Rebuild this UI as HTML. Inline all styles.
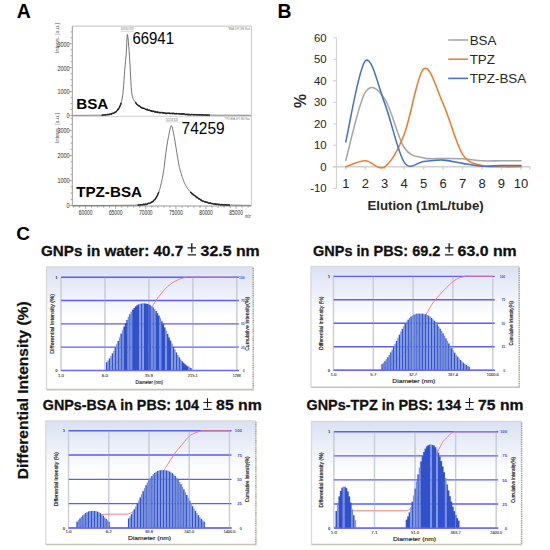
<!DOCTYPE html><html><head><meta charset="utf-8"><style>html,body{margin:0;padding:0;background:#fff;width:550px;height:550px;overflow:hidden}svg{display:block}</style></head><body>
<svg width="550" height="550" viewBox="0 0 550 550" font-family='"Liberation Sans", sans-serif'>
<rect width="550" height="550" fill="#fff"/>
<text x="16.8" y="17.7" font-size="19.4" font-weight="bold">A</text>
<g fill="none" stroke="#cdcdcd">
<path d="M72.3 26.1H251.5V206M72.3 116.3H251.5" stroke-width="1.1"/>
</g>
<path d="M72.3 26V206H251.5" fill="none" stroke="#9a9a9a" stroke-width="1"/>
<path d="M69.3 115.5H72.3M70.5 109.53H72.3M70.5 103.55H72.3M70.5 97.58H72.3M69.3 91.6H72.3M70.5 85.62H72.3M70.5 79.65H72.3M70.5 73.67H72.3M69.3 67.7H72.3M70.5 61.72H72.3M70.5 55.75H72.3M70.5 49.77H72.3M69.3 43.8H72.3M70.5 37.83H72.3M70.5 31.85H72.3M69.3 205.6H72.3M70.5 199.35H72.3M70.5 193.1H72.3M70.5 186.85H72.3M69.3 180.6H72.3M70.5 174.35H72.3M70.5 168.1H72.3M70.5 161.85H72.3M69.3 155.6H72.3M70.5 149.35H72.3M70.5 143.1H72.3M70.5 136.85H72.3M69.3 130.6H72.3M70.5 124.35H72.3M70.5 118.1H72.3M73.56 206v1.8M79.58 206v1.8M85.6 206v3M91.62 206v1.8M97.64 206v1.8M103.66 206v1.8M109.68 206v1.8M115.7 206v3M121.72 206v1.8M127.74 206v1.8M133.76 206v1.8M139.78 206v1.8M145.8 206v3M151.82 206v1.8M157.84 206v1.8M163.86 206v1.8M169.88 206v1.8M175.9 206v3M181.92 206v1.8M187.94 206v1.8M193.96 206v1.8M199.98 206v1.8M206 206v3M212.02 206v1.8M218.04 206v1.8M224.06 206v1.8M230.08 206v1.8M236.1 206v3M242.12 206v1.8M248.14 206v1.8" stroke="#888" stroke-width="0.7" fill="none"/>
<g font-size="7.2" fill="#262626" text-anchor="end">
<text x="69.6" y="118.3" textLength="3" lengthAdjust="spacingAndGlyphs">0</text>
<text x="69.6" y="94.4" textLength="12.2" lengthAdjust="spacingAndGlyphs">1000</text>
<text x="69.6" y="70.5" textLength="12.2" lengthAdjust="spacingAndGlyphs">2000</text>
<text x="69.6" y="46.6" textLength="12.2" lengthAdjust="spacingAndGlyphs">3000</text>
<text x="69.6" y="208.4" textLength="3" lengthAdjust="spacingAndGlyphs">0</text>
<text x="69.6" y="183.4" textLength="12.2" lengthAdjust="spacingAndGlyphs">1000</text>
<text x="69.6" y="158.4" textLength="12.2" lengthAdjust="spacingAndGlyphs">2000</text>
<text x="69.6" y="133.4" textLength="12.2" lengthAdjust="spacingAndGlyphs">3000</text>
</g>
<g font-size="7.2" fill="#262626" text-anchor="middle">
<text x="85.6" y="215.3" textLength="13.6" lengthAdjust="spacingAndGlyphs">60000</text>
<text x="115.7" y="215.3" textLength="13.6" lengthAdjust="spacingAndGlyphs">65000</text>
<text x="145.8" y="215.3" textLength="13.6" lengthAdjust="spacingAndGlyphs">70000</text>
<text x="175.9" y="215.3" textLength="13.6" lengthAdjust="spacingAndGlyphs">75000</text>
<text x="206" y="215.3" textLength="13.6" lengthAdjust="spacingAndGlyphs">80000</text>
<text x="236.1" y="215.3" textLength="13.6" lengthAdjust="spacingAndGlyphs">85000</text>
<text x="248" y="218.2" font-size="5" textLength="5.4" lengthAdjust="spacingAndGlyphs">m/z</text>
</g>
<text transform="translate(58.5 38) rotate(-90)" font-size="5.5" fill="#555" text-anchor="middle">Intens. [a.u.]</text>
<text transform="translate(58.5 128) rotate(-90)" font-size="5.5" fill="#555" text-anchor="middle">Intens. [a.u.]</text>
<g font-size="3.5" fill="#777">
<text x="121" y="30.1" textLength="12.6" lengthAdjust="spacingAndGlyphs">66940.919</text><path d="M121 31.3h12.6" stroke="#aaa" stroke-width="0.5"/>
<text x="165.5" y="120.6" textLength="12.6" lengthAdjust="spacingAndGlyphs">74258.826</text><path d="M165.5 121.8h12.6" stroke="#aaa" stroke-width="0.5"/>
<text x="228" y="30.4" textLength="22" lengthAdjust="spacingAndGlyphs">*BSA  0:F1 MS Raw</text>
<text x="224.4" y="120.4" textLength="25.4" lengthAdjust="spacingAndGlyphs">*TPZ-BSA 0:F1 MS Raw</text>
</g>
<path d="M72.8 115.38 L73.2 115.35 L73.6 115.42 L74 115.34 L74.4 115.4 L74.8 115.38 L75.2 115.34 L75.6 115.4 L76 115.33 L76.4 115.39 L76.8 115.33 L77.2 115.34 L77.6 115.38 L78 115.44 L78.4 115.34 L78.8 115.35 L79.2 115.41 L79.6 115.45 L80 115.4 L80.4 115.37 L80.8 115.45 L81.2 115.31 L81.6 115.43 L82 115.35 L82.4 115.32 L82.8 115.32 L83.2 115.34 L83.6 115.42 L84 115.32 L84.4 115.38 L84.8 115.38 L85.2 115.34 L85.6 115.36 L86 115.28 L86.4 115.28 L86.8 115.3 L87.2 115.38 L87.6 115.33 L88 115.31 L88.4 115.35 L88.8 115.33 L89.2 115.3 L89.6 115.38 L90 115.36 L90.4 115.27 L90.8 115.33 L91.2 115.32 L91.6 115.38 L92 115.35 L92.4 115.26 L92.8 115.39 L93.2 115.22 L93.6 115.27 L94 115.33 L94.4 115.21 L94.8 115.27 L95.2 115.17 L95.6 115.3 L96 115.31 L96.4 115.27 L96.8 115.33 L97.2 115.2 L97.6 115.28 L98 115.25 L98.4 115.24 L98.8 115.21 L99.2 115.29 L99.6 115.31 L100 115.19 L100.4 115.23 L100.8 115.07 L101.2 115.22 L101.6 115.18 L102 115.26 L102.4 115.19 L102.8 115.01 L103.2 115.01 L103.6 115.07 L104 114.83 L104.4 114.94 L104.8 114.8 L105 114.76 L105.2 114.71 L105.6 114.95 L106 114.65 L106.4 114.65 L106.8 114.66 L107.2 114.84 L107.6 114.4 L108 114.53 L108.4 114.52 L108.8 114.65 L109.2 114.56 L109.6 114.52 L110 114.05 L110.4 114.06 L110.8 113.93 L111.2 114.2 L111.6 114.15 L112 113.48 L112.4 113.39 L112.8 113.3 L113.2 113.18 L113.6 113.22 L113.7 113.26 L114 112.92 L114.4 112.54 L114.8 112.58 L115.2 112.26 L115.6 112.07 L116 111.98 L116.4 111.4 L116.8 110.85 L117.2 110.48 L117.6 110.04 L118 109.11 L118.1 109.58 L118.4 109.1 L118.8 108.58 L119.2 107.87 L119.6 106.85 L120 106.01 L120.4 104.88 L120.8 104.16 L121.1 102.97 L121.2 102.66 L121.6 101.24 L122 99.34 L122.4 97.08 L122.8 94.35 L122.9 93.6 L123.2 90.72 L123.6 85.72 L123.8 83.1 L124 80.36 L124.4 74.46 L124.6 71.7 L124.8 69.21 L125.2 64.73 L125.6 60.48 L126 55.97 L126.4 50.7 L126.8 42.11 L127.2 34.82 L127.3 34.4 L127.6 35.12 L128 37.91 L128.4 42.14 L128.8 47.03 L129.1 50.7 L129.2 51.94 L129.6 57.82 L130 64.66 L130.3 70 L130.4 71.89 L130.8 80.6 L131.2 87.5 L131.6 91.46 L132 94.53 L132.4 96.67 L132.5 97.03 L132.8 97.94 L133.2 98.86 L133.6 99.69 L134 100.28 L134.4 101.08 L134.7 101.41 L134.8 101.65 L135.2 102 L135.6 102.46 L136 103.25 L136.4 103.82 L136.8 104.2 L137.2 104.6 L137.6 105.01 L138 105.34 L138.4 105.33 L138.8 105.85 L139.2 106.04 L139.6 106.08 L139.9 106.27 L140 106.51 L140.4 106.72 L140.8 107.25 L141.2 107.64 L141.6 107.49 L142 108.02 L142.4 108.24 L142.8 108.39 L143.2 108.14 L143.6 108.2 L144 108.35 L144.4 108.48 L144.8 108.63 L145.2 109.06 L145.6 109.39 L146 109.48 L146.4 109.35 L146.5 109.51 L146.8 109.71 L147.2 109.33 L147.6 109.86 L148 110.16 L148.4 110.19 L148.8 110.29 L149.2 110.22 L149.6 110.13 L150 110.68 L150.4 110.47 L150.8 110.91 L151.2 111.14 L151.6 110.85 L152 110.96 L152.4 111.44 L152.8 111.39 L153.2 111.1 L153.6 111.17 L154 111.28 L154.4 111.89 L154.8 111.91 L155.2 111.53 L155.6 112.09 L156 112.28 L156.4 112.12 L156.8 111.98 L157.2 112.18 L157.6 111.95 L158 111.93 L158.2 112.63 L158.4 112.43 L158.8 112.4 L159.2 112.74 L159.6 112.44 L160 112.8 L160.4 112.82 L160.8 112.43 L161.2 112.51 L161.6 112.58 L162 112.59 L162.4 112.88 L162.8 112.69 L163.2 112.85 L163.6 112.69 L164 113.27 L164.4 112.92 L164.8 113.03 L165.2 113.15 L165.6 113.41 L166 113.11 L166.4 113.49 L166.8 113.22 L167.2 113.27 L167.6 113.29 L168 112.97 L168.4 113.29 L168.8 113.13 L169.2 113.02 L169.6 113.6 L169.8 113.17 L170 113.39 L170.4 113.58 L170.8 113.48 L171.2 113.33 L171.6 113.48 L172 113.52 L172.4 113.69 L172.8 113.22 L173.2 113.55 L173.6 113.34 L174 113.37 L174.4 113.72 L174.8 113.55 L175.2 113.59 L175.6 113.74 L176 113.86 L176.4 113.54 L176.8 113.66 L177.2 113.6 L177.6 113.62 L178 113.75 L178.4 113.6 L178.8 113.67 L179.2 113.65 L179.6 113.99 L180 113.84 L180.4 113.99 L180.8 114.07 L181.2 113.63 L181.6 113.89 L182 114.21 L182.4 114.19 L182.8 113.76 L183.2 113.81 L183.6 114.09 L184 113.89 L184.4 114.07 L184.8 114.01 L185.2 114.44 L185.6 114.55 L186 114.64 L186.4 114.22 L186.8 114.57 L187.2 114.56 L187.6 114.29 L188 114.72 L188.4 114.78 L188.8 114.39 L189.2 114.8 L189.6 114.53 L190 114.59 L190.4 114.86 L190.8 114.8 L191.2 114.48 L191.6 114.63 L192 114.68 L192.4 114.61 L192.8 114.56 L193.2 114.63 L193.6 114.83 L194 114.52 L194.4 114.78 L194.8 114.74 L195.2 114.57 L195.6 114.71 L196 114.85 L196.4 114.81 L196.8 114.64 L197.2 115.03 L197.6 114.95 L198 115.04 L198.4 114.7 L198.8 114.78 L199.2 114.7 L199.6 115 L200 114.81 L200.4 114.77 L200.8 114.89 L201.2 115.08 L201.6 115.05 L202 114.87 L202.4 114.84 L202.8 115.12 L203.2 115.01 L203.6 115.06 L204 114.87 L204.4 114.87 L204.8 115.09 L205.2 115.01 L205.6 114.92 L206 115.19 L206.4 115.11 L206.8 115.16 L207.2 114.97 L207.6 115.2 L208 114.98 L208.4 115.21 L208.8 115.11 L209.2 115.09 L209.6 115.15 L210 115.26 L210.4 115.09 L210.8 115.06 L211.2 115.17 L211.6 115.11 L212 115.08 L212.4 115.1 L212.8 115.08 L213.2 115.12 L213.6 115.15 L214 115.15 L214.4 115.26 L214.8 115.15 L215 115.2 L215.2 115.13 L215.6 115.17 L216 115.09 L216.4 115.15 L216.8 115.09 L217.2 115.26 L217.6 115.22 L218 115.14 L218.4 115.2 L218.8 115.31 L219.2 115.12 L219.6 115.28 L220 115.2 L220.4 115.21 L220.8 115.29 L221.2 115.19 L221.6 115.22 L222 115.26 L222.4 115.33 L222.8 115.18 L223.2 115.29 L223.6 115.27 L224 115.25 L224.4 115.2 L224.8 115.19 L225.2 115.13 L225.6 115.14 L226 115.13 L226.4 115.28 L226.8 115.17 L227.2 115.15 L227.6 115.14 L228 115.3 L228.4 115.31 L228.8 115.27 L229.2 115.18 L229.6 115.18 L230 115.19 L230.4 115.23 L230.8 115.16 L231.2 115.22 L231.6 115.18 L232 115.34 L232.4 115.34 L232.8 115.25 L233.2 115.18 L233.6 115.34 L234 115.2 L234.4 115.21 L234.8 115.13 L235.2 115.22 L235.6 115.24 L236 115.24 L236.4 115.18 L236.8 115.24 L237.2 115.14 L237.6 115.19 L238 115.16 L238.4 115.22 L238.8 115.15 L239.2 115.14 L239.6 115.2 L240 115.19 L240.4 115.26 L240.8 115.25 L241.2 115.3 L241.6 115.28 L242 115.29 L242.4 115.33 L242.8 115.22 L243.2 115.21 L243.6 115.35 L244 115.17 L244.4 115.3 L244.8 115.28 L245.2 115.15 L245.6 115.32 L246 115.33 L246.4 115.28 L246.8 115.3 L247.2 115.31 L247.6 115.17 L248 115.25 L248.4 115.25 L248.8 115.32 L249.2 115.31 L249.6 115.32 L250 115.27 L250.4 115.33 L250.8 115.29" fill="none" stroke="#5a5a5a" stroke-width="0.85" stroke-linejoin="round"/>
<path d="M101.6 115.18 L102 115.26 L102.4 115.19 L102.8 115.01 L103.2 115.01 L103.6 115.07 L104 114.83 L104.4 114.94 L104.8 114.8 L105 114.76 L105.2 114.71 L105.6 114.95 L106 114.65 L106.4 114.65 L106.8 114.66 L107.2 114.84 L107.6 114.4 L108 114.53 L108.4 114.52 L108.8 114.65 L109.2 114.56 L109.6 114.52 L110 114.05 L110.4 114.06 L110.8 113.93 L111.2 114.2 L111.6 114.15 L112 113.48 L112.4 113.39 L112.8 113.3 L113.2 113.18 L113.6 113.22 L113.7 113.26 L114 112.92 L114.4 112.54 L114.8 112.58 L115.2 112.26 L115.6 112.07 L116 111.98 L116.4 111.4 L116.8 110.85 L117.2 110.48 L117.6 110.04 L118 109.11 L118.1 109.58 L118.4 109.1 L118.8 108.58 L119.2 107.87 L119.6 106.85 L120 106.01 L120.4 104.88 L120.8 104.16 L121.1 102.97 L121.2 102.66M135.2 102 L135.6 102.46 L136 103.25 L136.4 103.82 L136.8 104.2 L137.2 104.6 L137.6 105.01 L138 105.34 L138.4 105.33 L138.8 105.85 L139.2 106.04 L139.6 106.08 L139.9 106.27 L140 106.51 L140.4 106.72 L140.8 107.25 L141.2 107.64 L141.6 107.49 L142 108.02 L142.4 108.24 L142.8 108.39 L143.2 108.14 L143.6 108.2 L144 108.35 L144.4 108.48 L144.8 108.63 L145.2 109.06 L145.6 109.39 L146 109.48 L146.4 109.35 L146.5 109.51 L146.8 109.71 L147.2 109.33 L147.6 109.86 L148 110.16 L148.4 110.19 L148.8 110.29 L149.2 110.22 L149.6 110.13 L150 110.68 L150.4 110.47 L150.8 110.91 L151.2 111.14 L151.6 110.85 L152 110.96 L152.4 111.44 L152.8 111.39 L153.2 111.1 L153.6 111.17 L154 111.28 L154.4 111.89 L154.8 111.91 L155.2 111.53 L155.6 112.09 L156 112.28 L156.4 112.12 L156.8 111.98 L157.2 112.18 L157.6 111.95 L158 111.93 L158.2 112.63 L158.4 112.43 L158.8 112.4 L159.2 112.74 L159.6 112.44 L160 112.8 L160.4 112.82 L160.8 112.43 L161.2 112.51 L161.6 112.58 L162 112.59 L162.4 112.88 L162.8 112.69 L163.2 112.85 L163.6 112.69 L164 113.27 L164.4 112.92 L164.8 113.03 L165.2 113.15 L165.6 113.41 L166 113.11 L166.4 113.49 L166.8 113.22 L167.2 113.27 L167.6 113.29 L168 112.97 L168.4 113.29 L168.8 113.13 L169.2 113.02 L169.6 113.6 L169.8 113.17 L170 113.39 L170.4 113.58 L170.8 113.48 L171.2 113.33 L171.6 113.48 L172 113.52 L172.4 113.69 L172.8 113.22 L173.2 113.55 L173.6 113.34 L174 113.37 L174.4 113.72 L174.8 113.55 L175.2 113.59 L175.6 113.74 L176 113.86 L176.4 113.54 L176.8 113.66 L177.2 113.6 L177.6 113.62 L178 113.75 L178.4 113.6 L178.8 113.67 L179.2 113.65 L179.6 113.99 L180 113.84 L180.4 113.99 L180.8 114.07 L181.2 113.63 L181.6 113.89 L182 114.21 L182.4 114.19 L182.8 113.76 L183.2 113.81 L183.6 114.09 L184 113.89 L184.4 114.07 L184.8 114.01 L185.2 114.44 L185.6 114.55 L186 114.64 L186.4 114.22 L186.8 114.57 L187.2 114.56 L187.6 114.29 L188 114.72 L188.4 114.78 L188.8 114.39 L189.2 114.8 L189.6 114.53 L190 114.59 L190.4 114.86 L190.8 114.8 L191.2 114.48 L191.6 114.63 L192 114.68 L192.4 114.61 L192.8 114.56 L193.2 114.63 L193.6 114.83 L194 114.52 L194.4 114.78 L194.8 114.74 L195.2 114.57 L195.6 114.71 L196 114.85 L196.4 114.81 L196.8 114.64 L197.2 115.03 L197.6 114.95 L198 115.04 L198.4 114.7 L198.8 114.78 L199.2 114.7 L199.6 115 L200 114.81 L200.4 114.77 L200.8 114.89 L201.2 115.08 L201.6 115.05 L202 114.87 L202.4 114.84 L202.8 115.12 L203.2 115.01 L203.6 115.06 L204 114.87 L204.4 114.87 L204.8 115.09 L205.2 115.01 L205.6 114.92 L206 115.19 L206.4 115.11 L206.8 115.16 L207.2 114.97 L207.6 115.2 L208 114.98 L208.4 115.21 L208.8 115.11 L209.2 115.09 L209.6 115.15 L210 115.26" fill="none" stroke="#262626" stroke-width="1.45" stroke-linejoin="round"/>
<path d="M72.8 205.55 L73.2 205.54 L73.6 205.54 L74 205.54 L74.4 205.55 L74.8 205.54 L75.2 205.56 L75.6 205.55 L76 205.55 L76.4 205.55 L76.8 205.55 L77.2 205.55 L77.6 205.54 L78 205.56 L78.4 205.55 L78.8 205.55 L79.2 205.55 L79.6 205.55 L80 205.54 L80.4 205.55 L80.8 205.54 L81.2 205.53 L81.6 205.54 L82 205.55 L82.4 205.54 L82.8 205.55 L83.2 205.56 L83.6 205.54 L84 205.54 L84.4 205.54 L84.8 205.55 L85.2 205.55 L85.6 205.54 L86 205.54 L86.4 205.53 L86.8 205.53 L87.2 205.53 L87.6 205.54 L88 205.53 L88.4 205.54 L88.8 205.52 L89.2 205.52 L89.6 205.52 L90 205.54 L90.4 205.54 L90.8 205.53 L91.2 205.52 L91.6 205.53 L92 205.52 L92.4 205.52 L92.8 205.51 L93.2 205.54 L93.6 205.51 L94 205.54 L94.4 205.54 L94.8 205.5 L95.2 205.51 L95.6 205.53 L96 205.53 L96.4 205.51 L96.8 205.5 L97.2 205.5 L97.6 205.53 L98 205.49 L98.4 205.51 L98.8 205.49 L99.2 205.5 L99.6 205.52 L100 205.48 L100.4 205.51 L100.8 205.5 L101.2 205.51 L101.6 205.5 L102 205.48 L102.4 205.51 L102.8 205.49 L103.2 205.46 L103.6 205.46 L104 205.48 L104.4 205.48 L104.8 205.47 L105.2 205.46 L105.6 205.47 L106 205.46 L106.4 205.49 L106.8 205.44 L107.2 205.48 L107.6 205.49 L108 205.44 L108.4 205.49 L108.8 205.47 L109.2 205.48 L109.6 205.44 L110 205.44 L110.4 205.44 L110.8 205.48 L111.2 205.45 L111.6 205.43 L112 205.44 L112.4 205.42 L112.8 205.4 L113.2 205.4 L113.6 205.46 L114 205.41 L114.4 205.46 L114.8 205.4 L115.2 205.4 L115.6 205.42 L116 205.39 L116.4 205.4 L116.8 205.45 L117.2 205.44 L117.6 205.43 L118 205.41 L118.4 205.44 L118.8 205.44 L119.2 205.4 L119.6 205.41 L120 205.34 L120.4 205.41 L120.8 205.38 L121.2 205.4 L121.6 205.39 L122 205.35 L122.4 205.32 L122.8 205.41 L123.2 205.32 L123.6 205.35 L124 205.34 L124.4 205.33 L124.8 205.38 L125.2 205.4 L125.6 205.31 L126 205.36 L126.4 205.31 L126.8 205.34 L127.2 205.31 L127.6 205.28 L128 205.27 L128.4 205.28 L128.8 205.37 L129.2 205.31 L129.6 205.27 L130 205.36 L130.4 205.37 L130.8 205.28 L131.2 205.23 L131.6 205.23 L132 205.2 L132.4 205.23 L132.8 205.18 L133.2 205.19 L133.6 205.18 L134 205.22 L134.4 205.27 L134.8 205.23 L135.2 205.14 L135.6 205.12 L136 205.13 L136.4 205.07 L136.8 205.04 L137.2 204.94 L137.6 204.97 L138 205.14 L138.4 204.87 L138.8 204.96 L139.2 204.97 L139.6 205.02 L140 204.77 L140.4 204.76 L140.8 204.71 L141.2 204.73 L141.6 204.72 L142 204.89 L142.4 204.82 L142.8 204.8 L143.2 204.36 L143.6 204.32 L144 204.62 L144.1 204.7 L144.4 204.45 L144.8 204.46 L145.2 204.06 L145.6 204.21 L146 204.48 L146.4 204.33 L146.8 204.26 L147.2 204.23 L147.6 203.61 L148 203.38 L148.4 203.28 L148.8 203.4 L149.2 203.37 L149.6 203.39 L150 203.08 L150.4 202.85 L150.8 202.76 L151.2 202.36 L151.4 202.34 L151.6 201.88 L152 202.18 L152.4 201.54 L152.8 201.73 L153.2 201.22 L153.6 200.64 L154 200.14 L154.4 199.81 L154.8 199.65 L155.2 199.22 L155.6 198.32 L155.9 197.9 L156 198.08 L156.4 197.52 L156.8 196.68 L157.2 195.77 L157.6 195.15 L158 193.84 L158.4 193 L158.8 192.01 L159.2 191.06 L159.5 190.04 L159.6 189.8 L160 188.36 L160.4 186.84 L160.8 185.23 L161.2 183.47 L161.6 181.62 L162 179.69 L162.3 178.2 L162.4 177.7 L162.8 175.58 L163.2 173.29 L163.6 170.83 L164 168.19 L164.1 167.5 L164.4 165.24 L164.8 161.82 L165.2 158.24 L165.6 154.8 L165.9 152.5 L166 151.8 L166.4 149.03 L166.8 146.38 L167.2 143.85 L167.6 141.46 L168 139.22 L168.4 137.16 L168.6 136.2 L168.8 135.24 L169.2 133.2 L169.6 131.15 L170 129.23 L170.4 127.59 L170.8 126.38 L171.2 125.75 L171.35 125.7 L171.6 125.85 L172 126.63 L172.4 127.96 L172.8 129.69 L173.2 131.66 L173.6 133.72 L174 135.72 L174.1 136.2 L174.4 137.7 L174.8 139.94 L175.2 142.38 L175.6 144.95 L176 147.54 L176.4 150.09 L176.8 152.5 L177.2 154.87 L177.6 157.32 L178 159.75 L178.4 162.1 L178.8 164.29 L179.2 166.24 L179.5 167.5 L179.6 167.89 L180 169.4 L180.4 170.86 L180.8 172.28 L181.2 173.64 L181.6 174.96 L182 176.23 L182.4 177.45 L182.8 178.62 L183.2 179.73 L183.6 180.8 L184 181.81 L184.4 182.76 L184.8 183.67 L185.2 184.51 L185.6 185.31 L186 186.04 L186.4 186.72 L186.7 187.25 L186.8 187.31 L187.2 187.92 L187.6 188.59 L188 188.94 L188.4 189.56 L188.8 190.18 L189.2 190.66 L189.6 190.86 L190 191.29 L190.4 191.72 L190.8 192.52 L191.2 192.6 L191.6 193.24 L192 193.7 L192.4 193.75 L192.8 194.05 L193.2 194.81 L193.6 194.93 L194 195.01 L194.4 195.63 L194.8 195.66 L195.2 195.92 L195.5 195.95 L195.6 196.55 L196 196.95 L196.4 197.04 L196.8 197.54 L197.2 197.18 L197.6 197.61 L198 198.05 L198.4 198.66 L198.8 198.92 L199.2 198.79 L199.6 198.95 L200 199.33 L200.4 199.61 L200.8 200.16 L201.2 199.87 L201.6 200.52 L202 200.7 L202.4 200.96 L202.8 201.13 L203.2 201.21 L203.6 201.19 L204 201.36 L204.4 201.55 L204.8 202 L205.2 201.65 L205.6 201.86 L206 202.37 L206.4 202.12 L206.8 202.1 L207.2 202.17 L207.6 202.63 L208 202.57 L208.4 203.12 L208.8 203.14 L209.2 203.31 L209.6 202.89 L210 202.84 L210.4 202.94 L210.8 203.3 L211.2 203.53 L211.6 203.42 L212 203.35 L212.4 203.55 L212.8 203.76 L213.2 203.87 L213.6 203.99 L214 204.12 L214.4 204.06 L214.8 203.74 L215.2 204.3 L215.6 203.98 L216 204.22 L216.4 204.14 L216.8 204.42 L217.2 204.14 L217.6 204.22 L218 204.27 L218.4 204.27 L218.8 204.69 L219.2 204.57 L219.6 204.48 L220 204.55 L220.4 204.85 L220.8 204.66 L221.2 204.56 L221.6 204.83 L222 204.78 L222.4 204.94 L222.8 204.61 L223.2 204.77 L223.6 204.92 L224 204.94 L224.4 204.98 L224.8 204.69 L225.2 204.8 L225.6 204.76 L226 204.8 L226.4 205.07 L226.8 204.96 L227.2 205.08 L227.6 204.93 L228 205.09 L228.4 204.98 L228.8 204.94 L229.2 205.09 L229.6 205.15 L230 204.94 L230.4 205.08 L230.8 205.1 L231.2 205.01 L231.6 205.06 L232 205.02 L232.4 205.04 L232.8 205.07 L233.2 205.15 L233.6 205.17 L234 205.09 L234.4 205.06 L234.8 205.13 L235.2 205.21 L235.6 205.12 L236 205.16 L236.4 205.15 L236.8 205.26 L237.2 205.23 L237.6 205.15 L238 205.16 L238.4 205.22 L238.8 205.25 L239.1 205.27 L239.2 205.19 L239.6 205.2 L240 205.3 L240.4 205.26 L240.8 205.25 L241.2 205.26 L241.6 205.36 L242 205.27 L242.4 205.31 L242.8 205.29 L243.2 205.3 L243.6 205.37 L244 205.39 L244.4 205.31 L244.8 205.3 L245.2 205.37 L245.6 205.31 L246 205.29 L246.4 205.4 L246.8 205.35 L247.2 205.4 L247.6 205.36 L248 205.41 L248.4 205.37 L248.8 205.35 L249.2 205.34 L249.6 205.39 L250 205.4 L250.4 205.43 L250.8 205.36" fill="none" stroke="#5a5a5a" stroke-width="0.85" stroke-linejoin="round"/>
<path d="M137.6 204.97 L138 205.14 L138.4 204.87 L138.8 204.96 L139.2 204.97 L139.6 205.02 L140 204.77 L140.4 204.76 L140.8 204.71 L141.2 204.73 L141.6 204.72 L142 204.89 L142.4 204.82 L142.8 204.8 L143.2 204.36 L143.6 204.32 L144 204.62 L144.1 204.7 L144.4 204.45 L144.8 204.46 L145.2 204.06 L145.6 204.21 L146 204.48 L146.4 204.33 L146.8 204.26 L147.2 204.23 L147.6 203.61 L148 203.38 L148.4 203.28 L148.8 203.4 L149.2 203.37 L149.6 203.39 L150 203.08 L150.4 202.85 L150.8 202.76 L151.2 202.36 L151.4 202.34 L151.6 201.88 L152 202.18 L152.4 201.54 L152.8 201.73 L153.2 201.22 L153.6 200.64 L154 200.14 L154.4 199.81 L154.8 199.65 L155.2 199.22 L155.6 198.32 L155.9 197.9 L156 198.08 L156.4 197.52 L156.8 196.68 L157.2 195.77 L157.6 195.15 L158 193.84 L158.4 193 L158.8 192.01M190.4 191.72 L190.8 192.52 L191.2 192.6 L191.6 193.24 L192 193.7 L192.4 193.75 L192.8 194.05 L193.2 194.81 L193.6 194.93 L194 195.01 L194.4 195.63 L194.8 195.66 L195.2 195.92 L195.5 195.95 L195.6 196.55 L196 196.95 L196.4 197.04 L196.8 197.54 L197.2 197.18 L197.6 197.61 L198 198.05 L198.4 198.66 L198.8 198.92 L199.2 198.79 L199.6 198.95 L200 199.33 L200.4 199.61 L200.8 200.16 L201.2 199.87 L201.6 200.52 L202 200.7 L202.4 200.96 L202.8 201.13 L203.2 201.21 L203.6 201.19 L204 201.36 L204.4 201.55 L204.8 202 L205.2 201.65 L205.6 201.86 L206 202.37 L206.4 202.12 L206.8 202.1 L207.2 202.17 L207.6 202.63 L208 202.57 L208.4 203.12 L208.8 203.14 L209.2 203.31 L209.6 202.89 L210 202.84 L210.4 202.94 L210.8 203.3 L211.2 203.53 L211.6 203.42 L212 203.35 L212.4 203.55 L212.8 203.76 L213.2 203.87 L213.6 203.99 L214 204.12 L214.4 204.06 L214.8 203.74 L215.2 204.3 L215.6 203.98 L216 204.22 L216.4 204.14 L216.8 204.42 L217.2 204.14 L217.6 204.22 L218 204.27 L218.4 204.27 L218.8 204.69 L219.2 204.57 L219.6 204.48 L220 204.55 L220.4 204.85 L220.8 204.66 L221.2 204.56 L221.6 204.83 L222 204.78 L222.4 204.94 L222.8 204.61 L223.2 204.77 L223.6 204.92 L224 204.94 L224.4 204.98 L224.8 204.69 L225.2 204.8 L225.6 204.76 L226 204.8 L226.4 205.07 L226.8 204.96 L227.2 205.08 L227.6 204.93 L228 205.09 L228.4 204.98 L228.8 204.94 L229.2 205.09 L229.6 205.15 L230 204.94" fill="none" stroke="#262626" stroke-width="1.45" stroke-linejoin="round"/>
<text x="132.4" y="43.9" font-size="16.2" textLength="41.6" lengthAdjust="spacingAndGlyphs">66941</text>
<text x="181.6" y="134" font-size="16" textLength="43" lengthAdjust="spacingAndGlyphs">74259</text>
<text x="76.2" y="109.4" font-size="15.2" font-weight="bold">BSA</text>
<text x="76.2" y="197" font-size="15.2" font-weight="bold">TPZ-BSA</text>
<text x="277.6" y="17.6" font-size="19.4" font-weight="bold">B</text>
<path d="M336.4 37.8V188.3" stroke="#d0d0d0" stroke-width="1.1" fill="none"/>
<path d="M333.0 188.3H336.4M333.0 166.8H336.4M333.0 145.3H336.4M333.0 123.8H336.4M333.0 102.3H336.4M333.0 80.8H336.4M333.0 59.3H336.4M333.0 37.8H336.4" stroke="#d0d0d0" stroke-width="1" fill="none"/>
<path d="M333.0 166.8H530M345.8 166.8v2.6M365.26 166.8v2.6M384.72 166.8v2.6M404.18 166.8v2.6M423.64 166.8v2.6M443.1 166.8v2.6M462.56 166.8v2.6M482.02 166.8v2.6M501.48 166.8v2.6M520.94 166.8v2.6M530 166.8v2.6" stroke="#d0d0d0" stroke-width="1.4" fill="none"/>
<g font-size="11.4" fill="#262626" text-anchor="end">
<text x="326.6" y="192.4">-10</text>
<text x="326.6" y="170.9">0</text>
<text x="326.6" y="149.4">10</text>
<text x="326.6" y="127.9">20</text>
<text x="326.6" y="106.4">30</text>
<text x="326.6" y="84.9">40</text>
<text x="326.6" y="63.4">50</text>
<text x="326.6" y="41.9">60</text>
</g>
<g font-size="13" fill="#262626" text-anchor="middle">
<text x="345.8" y="187.6">1</text>
<text x="365.26" y="187.6">2</text>
<text x="384.72" y="187.6">3</text>
<text x="404.18" y="187.6">4</text>
<text x="423.64" y="187.6">5</text>
<text x="443.1" y="187.6">6</text>
<text x="462.56" y="187.6">7</text>
<text x="482.02" y="187.6">8</text>
<text x="501.48" y="187.6">9</text>
<text x="520.94" y="187.6">10</text>
</g>
<text x="367.4" y="209.6" font-size="13.25" font-weight="bold" fill="#262626">Elution (1mL/tube)</text>
<text transform="translate(306.3 101) rotate(-90)" font-size="15.8" font-weight="bold" fill="#262626" text-anchor="middle">%</text>
<path d="M345.8 160.35 C349.04 149.03 358.77 102.66 365.26 92.41 C371.75 82.16 378.23 89.69 384.72 98.86 C391.21 108.03 397.69 137.6 404.18 147.45 C410.67 157.3 417.15 156.16 423.64 157.99 C430.13 159.81 436.61 158.27 443.1 158.42 C449.59 158.56 456.07 158.45 462.56 158.84 C469.05 159.24 475.53 160.46 482.02 160.78 C488.51 161.1 494.99 160.78 501.48 160.78 C507.97 160.78 517.7 160.78 520.94 160.78" fill="none" stroke="#a5a5a5" stroke-width="1.55" stroke-linecap="round"/>
<path d="M345.8 166.8 C349.04 165.8 358.77 160.78 365.26 160.78 C371.75 160.78 378.23 171.17 384.72 166.8 C391.21 162.43 397.69 150.85 404.18 134.55 C410.67 118.25 417.15 74.14 423.64 68.98 C430.13 63.82 436.61 89.36 443.1 103.59 C449.59 117.82 456.07 144.01 462.56 154.33 C469.05 164.65 475.53 163.43 482.02 165.51 C488.51 167.59 494.99 166.59 501.48 166.8 C507.97 167.02 517.7 166.8 520.94 166.8" fill="none" stroke="#ed7d31" stroke-width="1.55" stroke-linecap="round"/>
<path d="M345.8 141.86 C349.04 128.39 358.77 67.43 365.26 61.02 C371.75 54.61 378.23 86.53 384.72 103.38 C391.21 120.22 397.69 152.4 404.18 162.07 C410.67 171.75 417.15 161.75 423.64 161.43 C430.13 161.1 436.61 159.81 443.1 160.14 C449.59 160.46 456.07 162.36 462.56 163.36 C469.05 164.36 475.53 165.8 482.02 166.16 C488.51 166.51 494.99 165.62 501.48 165.51 C507.97 165.4 517.7 165.51 520.94 165.51" fill="none" stroke="#4472c4" stroke-width="1.55" stroke-linecap="round"/>
<path d="M448.2 40H468" stroke="#a5a5a5" stroke-width="1.55"/>
<text x="469.7" y="44.7" font-size="13.4" fill="#262626">BSA</text>
<path d="M448.2 59.2H468" stroke="#ed7d31" stroke-width="1.55"/>
<text x="469.7" y="63.9" font-size="13.4" fill="#262626">TPZ</text>
<path d="M448.2 78.4H468" stroke="#4472c4" stroke-width="1.55"/>
<text x="469.7" y="83.1" font-size="13.4" fill="#262626">TPZ-BSA</text>
<text x="16.3" y="240.2" font-size="19" font-weight="bold">C</text>
<text transform="translate(27.7 390.3) rotate(-90)" font-size="15.3" font-weight="bold" fill="#111" stroke="#111" stroke-width="0.25" text-anchor="middle" textLength="177.8" lengthAdjust="spacingAndGlyphs">Differential Intensity (%)</text>
<text x="41.0" y="256.2" font-size="15.3" font-weight="bold" fill="#111" stroke="#111" stroke-width="0.3" textLength="142.1" lengthAdjust="spacingAndGlyphs">GNPs in water: 40.7</text>
<path d="M187.6 247.8h8.4M191.8 243.3V252.6M187.6 254.9h8.4" stroke="#1a1a1a" stroke-width="1.35" fill="none"/>
<text x="200.6" y="256.2" font-size="15.3" font-weight="bold" fill="#111" stroke="#111" stroke-width="0.3" textLength="59.1" lengthAdjust="spacingAndGlyphs">32.5 nm</text>
<text x="313.0" y="256.2" font-size="15.3" font-weight="bold" fill="#111" stroke="#111" stroke-width="0.3" textLength="127.4" lengthAdjust="spacingAndGlyphs">GNPs in PBS: 69.2</text>
<path d="M445 247.8h8.4M449.2 243.3V252.6M445 254.9h8.4" stroke="#1a1a1a" stroke-width="1.35" fill="none"/>
<text x="457.59999999999997" y="256.2" font-size="15.3" font-weight="bold" fill="#111" stroke="#111" stroke-width="0.3" textLength="59.1" lengthAdjust="spacingAndGlyphs">63.0 nm</text>
<text x="42.8" y="410.1" font-size="15.3" font-weight="bold" fill="#111" stroke="#111" stroke-width="0.3" textLength="156.1" lengthAdjust="spacingAndGlyphs">GNPs-BSA in PBS: 104</text>
<path d="M203.3 402.5h8.4M207.5 398.2V407.5M203.3 409.4h8.4" stroke="#1a1a1a" stroke-width="1.1" fill="none"/>
<text x="216.1" y="410.1" font-size="15.3" font-weight="bold" fill="#111" stroke="#111" stroke-width="0.3" textLength="45.8" lengthAdjust="spacingAndGlyphs">85 nm</text>
<text x="306.5" y="410.1" font-size="15.3" font-weight="bold" fill="#111" stroke="#111" stroke-width="0.3" textLength="154.4" lengthAdjust="spacingAndGlyphs">GNPs-TPZ in PBS: 134</text>
<path d="M465.3 402.5h8.4M469.5 398V407.5M465.3 409.4h8.4" stroke="#1a1a1a" stroke-width="1.1" fill="none"/>
<text x="478.09999999999997" y="410.1" font-size="15.3" font-weight="bold" fill="#111" stroke="#111" stroke-width="0.3" textLength="45.3" lengthAdjust="spacingAndGlyphs">75 nm</text>
<defs><linearGradient id="g46266" x1="0" y1="0" x2="0" y2="1"><stop offset="0" stop-color="#d9e1f3"/><stop offset="0.42" stop-color="#ffffff"/><stop offset="1" stop-color="#ffffff"/></linearGradient></defs>
<rect x="46.5" y="266.8" width="206.7" height="122.8" fill="url(#g46266)"/>
<path d="M46.5 389.6V266.8H253.2" stroke="#d9d9d9" stroke-width="1.3" fill="none"/>
<path d="M253.2 267.8V390.4" stroke="#a4a496" stroke-width="1.5" stroke-dasharray="1.2 0.6"/>
<path d="M46.5 389.6H253.2" stroke="#c4c4bb" stroke-width="1.6"/>
<path d="M61 277.2V370.5M104.95 277.2V370.5M148.9 277.2V370.5M192.85 277.2V370.5M236.8 277.2V370.5" stroke="#c9c9d1" stroke-width="1.35"/>
<path d="M61 277.2H238.8M61 300.52H238.8M61 323.85H238.8M61 347.18H238.8M61 370.5H238.8" stroke="#5c5cfa" stroke-width="1.35"/>
<path d="M106 370.5 C109.67 367.42 121.5 360.08 128 352 C134.5 343.92 141.08 329.23 145 322 C148.92 314.77 149.6 312.28 151.5 308.6 C153.4 304.92 153.77 303.53 156.4 299.9 C159.03 296.27 163.67 290.17 167.3 286.8 C170.93 283.43 174.93 281.3 178.2 279.7 C181.47 278.1 184.6 277.62 186.9 277.2 C189.2 276.78 191.15 277.2 192 277.2H236.8" fill="none" stroke="#f2707e" stroke-width="0.9"/>
<path d="M106 370.5h1.45v-8.16h-1.45zM108.9 370.5h1.45v-12.06h-1.45zM111.8 370.5h1.45v-17.01h-1.45zM114.7 370.5h1.45v-22.92h-1.45zM117.6 370.5h1.45v-29.6h-1.45zM120.5 370.5h1.45v-36.69h-1.45zM123.4 370.5h1.45v-43.79h-1.45zM124.85 370.5h1.45v-47.2h-1.45zM126.3 370.5h1.45v-50.43h-1.45zM129.2 370.5h1.45v-56.21h-1.45zM132.1 370.5h1.45v-60.81h-1.45zM133.55 370.5h1.45v-62.61h-1.45zM135 370.5h1.45v-64.07h-1.45zM136.45 370.5h1.45v-65.2h-1.45zM137.9 370.5h1.45v-66.01h-1.45zM140.8 370.5h1.45v-66.81h-1.45zM143.7 370.5h1.45v-66.89h-1.45zM145.15 370.5h1.45v-66.78h-1.45zM146.6 370.5h1.45v-66.49h-1.45zM148.05 370.5h1.45v-66h-1.45zM149.5 370.5h1.45v-65.25h-1.45zM152.4 370.5h1.45v-62.93h-1.45zM155.3 370.5h1.45v-59.44h-1.45zM156.75 370.5h1.45v-57.27h-1.45zM158.2 370.5h1.45v-54.83h-1.45zM161.1 370.5h1.45v-49.26h-1.45zM162.55 370.5h1.45v-46.2h-1.45zM164 370.5h1.45v-43h-1.45zM166.9 370.5h1.45v-36.4h-1.45zM168.35 370.5h1.45v-33.08h-1.45zM169.8 370.5h1.45v-29.81h-1.45zM172.7 370.5h1.45v-23.57h-1.45zM175.6 370.5h1.45v-17.97h-1.45zM178.5 370.5h1.45v-13.18h-1.45zM181.4 370.5h1.45v-9.29h-1.45zM182.85 370.5h1.45v-7.68h-1.45zM184.3 370.5h1.45v-6.28h-1.45zM185.75 370.5h1.45v-5.08h-1.45zM187.2 370.5h1.45v-4.07h-1.45zM190.1 370.5h1.45v-2.52h-1.45z" fill="#3252cc" stroke="#3252cc" stroke-width="0.15"/>
<path d="M107.45 370.5h1.45v-9.98h-1.45zM110.35 370.5h1.45v-14.41h-1.45zM113.25 370.5h1.45v-19.85h-1.45zM116.15 370.5h1.45v-26.18h-1.45zM119.05 370.5h1.45v-33.12h-1.45zM121.95 370.5h1.45v-40.27h-1.45zM127.75 370.5h1.45v-53.45h-1.45zM130.65 370.5h1.45v-58.67h-1.45zM139.35 370.5h1.45v-66.53h-1.45zM142.25 370.5h1.45v-66.9h-1.45zM150.95 370.5h1.45v-64.23h-1.45zM153.85 370.5h1.45v-61.33h-1.45zM159.65 370.5h1.45v-52.15h-1.45zM165.45 370.5h1.45v-39.72h-1.45zM171.25 370.5h1.45v-26.63h-1.45zM174.15 370.5h1.45v-20.68h-1.45zM177.05 370.5h1.45v-15.47h-1.45zM179.95 370.5h1.45v-11.12h-1.45zM188.65 370.5h1.45v-3.22h-1.45z" fill="#7690dc" stroke="#7690dc" stroke-width="0.15"/>
<path d="M61 277.2V370.5M104.95 277.2V370.5M148.9 277.2V370.5M192.85 277.2V370.5M236.8 277.2V370.5" stroke="#c8d2f0" stroke-width="1" opacity="0.35"/>
<path d="M61 370.5H238.8" stroke="#6a6af8" stroke-width="1.15"/>
<g font-size="4.3" fill="#333" text-anchor="middle" stroke="#333" stroke-width="0.1">
<text x="61" y="376.6" textLength="6.2" lengthAdjust="spacingAndGlyphs">1.0</text>
<text x="104.95" y="376.6" textLength="6.2" lengthAdjust="spacingAndGlyphs">6.0</text>
<text x="148.9" y="376.6" textLength="8.1" lengthAdjust="spacingAndGlyphs">35.9</text>
<text x="192.85" y="376.6" textLength="10" lengthAdjust="spacingAndGlyphs">215.1</text>
<text x="236.8" y="376.6" textLength="8.1" lengthAdjust="spacingAndGlyphs">1288</text>
</g>
<text x="135.5" y="384" font-size="5.6" fill="#222" stroke="#222" stroke-width="0.15" textLength="27.4" lengthAdjust="spacingAndGlyphs">Diameter (nm)</text>
<g font-size="4.3" fill="#333" text-anchor="middle" font-weight="bold"><text x="56.4" y="278.8">1</text><text x="56.4" y="372.1">0</text></g>
<g font-size="3.3" fill="#4a4aee" font-weight="bold" text-anchor="end">
<text x="244.6" y="278.8">100</text>
<text x="244.6" y="302.12">75</text>
<text x="244.6" y="325.45">50</text>
<text x="244.6" y="348.78">25</text>
<text x="244.6" y="372.1">0</text>
</g>
<text transform="translate(54.1 323.85) rotate(-90)" font-size="5.6" fill="#222" stroke="#222" stroke-width="0.18" text-anchor="middle" textLength="60" lengthAdjust="spacingAndGlyphs">Differential Intensity (%)</text>
<text transform="translate(249.4 323.85) rotate(-90)" font-size="5.6" fill="#222" stroke="#222" stroke-width="0.18" text-anchor="middle" textLength="54" lengthAdjust="spacingAndGlyphs">Cumulative Intensity(%)</text>
<defs><linearGradient id="g311266" x1="0" y1="0" x2="0" y2="1"><stop offset="0" stop-color="#d9e1f3"/><stop offset="0.42" stop-color="#ffffff"/><stop offset="1" stop-color="#ffffff"/></linearGradient></defs>
<rect x="311" y="266.5" width="208.2" height="120.7" fill="url(#g311266)"/>
<path d="M311 387.2V266.5H519.2" stroke="#d9d9d9" stroke-width="1.3" fill="none"/>
<path d="M519.2 267.5V388" stroke="#a4a496" stroke-width="1.5" stroke-dasharray="1.2 0.6"/>
<path d="M311 387.2H519.2" stroke="#c4c4bb" stroke-width="1.6"/>
<path d="M333.5 276.3V370.2M373.3 276.3V370.2M413.1 276.3V370.2M452.9 276.3V370.2M492.7 276.3V370.2" stroke="#c9c9d1" stroke-width="1.35"/>
<path d="M333.5 276.3H494.7M333.5 299.77H494.7M333.5 323.25H494.7M333.5 346.73H494.7M333.5 370.2H494.7" stroke="#5c5cfa" stroke-width="1.35"/>
<path d="M381 370.2 C385 367.17 397.52 361.25 405 352 C412.48 342.75 420.78 323.47 425.9 314.7 C431.02 305.93 431.15 304.93 435.7 299.4 C440.25 293.87 448.47 285.32 453.2 281.5 C457.93 277.68 461.3 277.37 464.1 276.5 C466.9 275.63 469.02 276.33 470 276.3H492.7" fill="none" stroke="#f2707e" stroke-width="0.9"/>
<path d="M381.4 370.2h1.45v-5.99h-1.45zM384.3 370.2h1.45v-9.03h-1.45zM387.2 370.2h1.45v-12.96h-1.45zM390.1 370.2h1.45v-17.76h-1.45zM393 370.2h1.45v-23.29h-1.45zM395.9 370.2h1.45v-29.27h-1.45zM398.8 370.2h1.45v-35.36h-1.45zM401.7 370.2h1.45v-41.17h-1.45zM404.6 370.2h1.45v-46.31h-1.45zM407.5 370.2h1.45v-50.5h-1.45zM410.4 370.2h1.45v-53.57h-1.45zM413.3 370.2h1.45v-55.47h-1.45zM416.2 370.2h1.45v-56.34h-1.45zM419.1 370.2h1.45v-56.5h-1.45zM422 370.2h1.45v-56.33h-1.45zM424.9 370.2h1.45v-55.67h-1.45zM427.8 370.2h1.45v-54.33h-1.45zM430.7 370.2h1.45v-52.23h-1.45zM433.6 370.2h1.45v-49.35h-1.45zM436.5 370.2h1.45v-45.72h-1.45zM439.4 370.2h1.45v-41.48h-1.45zM442.3 370.2h1.45v-36.77h-1.45zM445.2 370.2h1.45v-31.81h-1.45zM448.1 370.2h1.45v-26.82h-1.45zM451 370.2h1.45v-22h-1.45zM453.9 370.2h1.45v-17.54h-1.45zM456.8 370.2h1.45v-13.57h-1.45zM459.7 370.2h1.45v-10.17h-1.45zM462.6 370.2h1.45v-7.39h-1.45zM465.5 370.2h1.45v-5.19h-1.45zM468.4 370.2h1.45v-3.52h-1.45z" fill="#3252cc" stroke="#3252cc" stroke-width="0.15"/>
<path d="M382.85 370.2h1.45v-7.4h-1.45zM385.75 370.2h1.45v-10.88h-1.45zM388.65 370.2h1.45v-15.26h-1.45zM391.55 370.2h1.45v-20.45h-1.45zM394.45 370.2h1.45v-26.24h-1.45zM397.35 370.2h1.45v-32.33h-1.45zM400.25 370.2h1.45v-38.33h-1.45zM403.15 370.2h1.45v-43.84h-1.45zM406.05 370.2h1.45v-48.54h-1.45zM408.95 370.2h1.45v-52.18h-1.45zM411.85 370.2h1.45v-54.66h-1.45zM414.75 370.2h1.45v-56.02h-1.45zM417.65 370.2h1.45v-56.48h-1.45zM420.55 370.2h1.45v-56.46h-1.45zM423.45 370.2h1.45v-56.07h-1.45zM426.35 370.2h1.45v-55.09h-1.45zM429.25 370.2h1.45v-53.38h-1.45zM432.15 370.2h1.45v-50.88h-1.45zM435.05 370.2h1.45v-47.62h-1.45zM437.95 370.2h1.45v-43.67h-1.45zM440.85 370.2h1.45v-39.17h-1.45zM443.75 370.2h1.45v-34.31h-1.45zM446.65 370.2h1.45v-29.31h-1.45zM449.55 370.2h1.45v-24.38h-1.45zM452.45 370.2h1.45v-19.71h-1.45zM455.35 370.2h1.45v-15.48h-1.45zM458.25 370.2h1.45v-11.8h-1.45zM461.15 370.2h1.45v-8.71h-1.45zM464.05 370.2h1.45v-6.22h-1.45zM466.95 370.2h1.45v-4.29h-1.45z" fill="#7690dc" stroke="#7690dc" stroke-width="0.15"/>
<path d="M333.5 276.3V370.2M373.3 276.3V370.2M413.1 276.3V370.2M452.9 276.3V370.2M492.7 276.3V370.2" stroke="#c8d2f0" stroke-width="1" opacity="0.35"/>
<path d="M333.5 370.2H494.7" stroke="#6a6af8" stroke-width="1.15"/>
<g font-size="4.3" fill="#333" text-anchor="middle" stroke="#333" stroke-width="0.1">
<text x="333.5" y="375.9" textLength="6.2" lengthAdjust="spacingAndGlyphs">1.0</text>
<text x="373.3" y="375.9" textLength="6.2" lengthAdjust="spacingAndGlyphs">5.7</text>
<text x="413.1" y="375.9" textLength="8.1" lengthAdjust="spacingAndGlyphs">32.7</text>
<text x="452.9" y="375.9" textLength="10" lengthAdjust="spacingAndGlyphs">187.4</text>
<text x="492.7" y="375.9" textLength="11.9" lengthAdjust="spacingAndGlyphs">1000.0</text>
</g>
<text x="392.3" y="383" font-size="5.6" fill="#222" stroke="#222" stroke-width="0.15" textLength="43" lengthAdjust="spacingAndGlyphs">Diameter (nm)</text>
<g font-size="4.3" fill="#333" text-anchor="middle" font-weight="bold"><text x="328.9" y="277.9">1</text><text x="328.9" y="371.8">0</text></g>
<g font-size="3.3" fill="#4a4aee" font-weight="bold" text-anchor="end">
<text x="505.2" y="277.9">100</text>
<text x="505.2" y="301.38">75</text>
<text x="505.2" y="324.85">50</text>
<text x="505.2" y="348.33">25</text>
<text x="505.2" y="371.8">0</text>
</g>
<text transform="translate(322.7 323.25) rotate(-90)" font-size="5.6" fill="#222" stroke="#222" stroke-width="0.18" text-anchor="middle" textLength="53.5" lengthAdjust="spacingAndGlyphs">Differential Intensity (%)</text>
<text transform="translate(512.8 323.25) rotate(-90)" font-size="5.6" fill="#222" stroke="#222" stroke-width="0.18" text-anchor="middle" textLength="44.5" lengthAdjust="spacingAndGlyphs">Cumulative Intensity(%)</text>
<defs><linearGradient id="g45421" x1="0" y1="0" x2="0" y2="1"><stop offset="0" stop-color="#d9e1f3"/><stop offset="0.42" stop-color="#ffffff"/><stop offset="1" stop-color="#ffffff"/></linearGradient></defs>
<rect x="45.8" y="421" width="210.1" height="123.5" fill="url(#g45421)"/>
<path d="M45.8 544.5V421H255.9" stroke="#d9d9d9" stroke-width="1.3" fill="none"/>
<path d="M255.9 422V545.3" stroke="#a4a496" stroke-width="1.5" stroke-dasharray="1.2 0.6"/>
<path d="M45.8 544.5H255.9" stroke="#c4c4bb" stroke-width="1.6"/>
<path d="M68.5 430.7V528M108.75 430.7V528M149 430.7V528M189.25 430.7V528M229.5 430.7V528" stroke="#c9c9d1" stroke-width="1.35"/>
<path d="M68.5 430.7H231.5M68.5 455.02H231.5M68.5 479.35H231.5M68.5 503.68H231.5M68.5 528H231.5" stroke="#5c5cfa" stroke-width="1.35"/>
<path d="M76 528C86 526 96 516 103 514.2H127C132 513 134 510.9 134 510.9C145 500 155 480 164.5 469.5C166.08 467 171.42 458.25 174 454.5 C176.58 450.75 177.5 450 180 447 C182.5 444 186.5 438.83 189 436.5 C191.5 434.17 192.83 433.95 195 433 C197.17 432.05 199.83 431.18 202 430.8 C204.17 430.42 207 430.72 208 430.7H229.5" fill="none" stroke="#f2707e" stroke-width="0.9"/>
<path d="M76.4 528h1.45v-6.35h-1.45zM79.3 528h1.45v-9.42h-1.45zM82.2 528h1.45v-12.48h-1.45zM85.1 528h1.45v-14.96h-1.45zM88 528h1.45v-16.5h-1.45zM90.9 528h1.45v-17.07h-1.45zM93.8 528h1.45v-17.04h-1.45zM96.7 528h1.45v-16.37h-1.45zM99.6 528h1.45v-14.71h-1.45zM102.5 528h1.45v-12.13h-1.45zM105.4 528h1.45v-9.04h-1.45zM108.3 528h1.45v-6h-1.45z" fill="#3252cc" stroke="#3252cc" stroke-width="0.15"/>
<path d="M77.85 528h1.45v-7.85h-1.45zM80.75 528h1.45v-10.99h-1.45zM83.65 528h1.45v-13.82h-1.45zM86.55 528h1.45v-15.86h-1.45zM89.45 528h1.45v-16.89h-1.45zM92.35 528h1.45v-17.1h-1.45zM95.25 528h1.45v-16.82h-1.45zM98.15 528h1.45v-15.67h-1.45zM101.05 528h1.45v-13.52h-1.45zM103.95 528h1.45v-10.61h-1.45zM106.85 528h1.45v-7.48h-1.45z" fill="#7690dc" stroke="#7690dc" stroke-width="0.15"/>
<path d="M128 528h1.45v-9.61h-1.45zM130.9 528h1.45v-13.73h-1.45zM133.8 528h1.45v-18.73h-1.45zM136.7 528h1.45v-24.44h-1.45zM139.6 528h1.45v-30.59h-1.45zM142.5 528h1.45v-36.81h-1.45zM145.4 528h1.45v-42.7h-1.45zM148.3 528h1.45v-47.87h-1.45zM151.2 528h1.45v-52.05h-1.45zM154.1 528h1.45v-55.05h-1.45zM157 528h1.45v-56.88h-1.45zM159.9 528h1.45v-57.68h-1.45zM162.8 528h1.45v-57.8h-1.45zM165.7 528h1.45v-57.53h-1.45zM168.6 528h1.45v-56.58h-1.45zM171.5 528h1.45v-54.76h-1.45zM174.4 528h1.45v-51.96h-1.45zM177.3 528h1.45v-48.22h-1.45zM180.2 528h1.45v-43.64h-1.45zM183.1 528h1.45v-38.44h-1.45zM186 528h1.45v-32.88h-1.45zM188.9 528h1.45v-27.25h-1.45zM191.8 528h1.45v-21.85h-1.45zM194.7 528h1.45v-16.92h-1.45zM197.6 528h1.45v-12.63h-1.45zM200.5 528h1.45v-9.07h-1.45zM203.4 528h1.45v-6.26h-1.45z" fill="#3252cc" stroke="#3252cc" stroke-width="0.15"/>
<path d="M129.45 528h1.45v-11.56h-1.45zM132.35 528h1.45v-16.13h-1.45zM135.25 528h1.45v-21.51h-1.45zM138.15 528h1.45v-27.48h-1.45zM141.05 528h1.45v-33.72h-1.45zM143.95 528h1.45v-39.82h-1.45zM146.85 528h1.45v-45.39h-1.45zM149.75 528h1.45v-50.1h-1.45zM152.65 528h1.45v-53.7h-1.45zM155.55 528h1.45v-56.11h-1.45zM158.45 528h1.45v-57.39h-1.45zM161.35 528h1.45v-57.79h-1.45zM164.25 528h1.45v-57.73h-1.45zM167.15 528h1.45v-57.15h-1.45zM170.05 528h1.45v-55.79h-1.45zM172.95 528h1.45v-53.48h-1.45zM175.85 528h1.45v-50.21h-1.45zM178.75 528h1.45v-46.03h-1.45zM181.65 528h1.45v-41.1h-1.45zM184.55 528h1.45v-35.68h-1.45zM187.45 528h1.45v-30.05h-1.45zM190.35 528h1.45v-24.5h-1.45zM193.25 528h1.45v-19.31h-1.45zM196.15 528h1.45v-14.68h-1.45zM199.05 528h1.45v-10.75h-1.45zM201.95 528h1.45v-7.58h-1.45z" fill="#7690dc" stroke="#7690dc" stroke-width="0.15"/>
<path d="M68.5 430.7V528M108.75 430.7V528M149 430.7V528M189.25 430.7V528M229.5 430.7V528" stroke="#c8d2f0" stroke-width="1" opacity="0.35"/>
<path d="M68.5 528H231.5" stroke="#6a6af8" stroke-width="1.15"/>
<g font-size="4.3" fill="#333" text-anchor="middle" stroke="#333" stroke-width="0.1">
<text x="68.5" y="533" textLength="6.2" lengthAdjust="spacingAndGlyphs">1.0</text>
<text x="108.75" y="533" textLength="6.2" lengthAdjust="spacingAndGlyphs">6.2</text>
<text x="149" y="533" textLength="8.1" lengthAdjust="spacingAndGlyphs">38.8</text>
<text x="189.25" y="533" textLength="10" lengthAdjust="spacingAndGlyphs">241.0</text>
<text x="229.5" y="533" textLength="11.9" lengthAdjust="spacingAndGlyphs">1400.0</text>
</g>
<text x="128" y="539.8" font-size="5.6" fill="#222" stroke="#222" stroke-width="0.15" textLength="43" lengthAdjust="spacingAndGlyphs">Diameter (nm)</text>
<g font-size="4.3" fill="#333" text-anchor="middle" font-weight="bold"><text x="63.9" y="432.3">1</text><text x="63.9" y="529.6">0</text></g>
<g font-size="4.2" fill="#4a4aee" font-weight="bold" text-anchor="end">
<text x="241.8" y="432.3">100</text>
<text x="241.8" y="456.62">75</text>
<text x="241.8" y="480.95">50</text>
<text x="241.8" y="505.28">25</text>
<text x="241.8" y="529.6">0</text>
</g>
<text transform="translate(57.7 479.35) rotate(-90)" font-size="5.6" fill="#222" stroke="#222" stroke-width="0.18" text-anchor="middle" textLength="54" lengthAdjust="spacingAndGlyphs">Differential Intensity (%)</text>
<text transform="translate(249 479.35) rotate(-90)" font-size="5.6" fill="#222" stroke="#222" stroke-width="0.18" text-anchor="middle" textLength="45.8" lengthAdjust="spacingAndGlyphs">Cumulative Intensity(%)</text>
<defs><linearGradient id="g311421" x1="0" y1="0" x2="0" y2="1"><stop offset="0" stop-color="#d9e1f3"/><stop offset="0.42" stop-color="#ffffff"/><stop offset="1" stop-color="#ffffff"/></linearGradient></defs>
<rect x="311.5" y="421.5" width="210.1" height="123" fill="url(#g311421)"/>
<path d="M311.5 544.5V421.5H521.6" stroke="#d9d9d9" stroke-width="1.3" fill="none"/>
<path d="M521.6 422.5V545.3" stroke="#a4a496" stroke-width="1.5" stroke-dasharray="1.2 0.6"/>
<path d="M311.5 544.5H521.6" stroke="#c4c4bb" stroke-width="1.6"/>
<path d="M333.9 431.7V528.1M374.47 431.7V528.1M415.05 431.7V528.1M455.62 431.7V528.1M496.2 431.7V528.1" stroke="#c9c9d1" stroke-width="1.35"/>
<path d="M333.9 431.7H498.2M333.9 455.8H498.2M333.9 479.9H498.2M333.9 504H498.2M333.9 528.1H498.2" stroke="#5c5cfa" stroke-width="1.35"/>
<path d="M334 528C340 524 346 513 353 510.8H406.3C409 510.5 410 509 411.4 507.5C413 505 416.5 501.2 416.5 501.2C425 485 430 470 436.9 454C439 448 443.2 441.4 443.2 441.4C446 438 449.6 435 449.6 435C451 433 453 431.7 455 431.7H496.2" fill="none" stroke="#f2707e" stroke-width="0.9"/>
<path d="M335.6 528.1h1.45v-17.04h-1.45zM338.5 528.1h1.45v-31.57h-1.45zM339.95 528.1h1.45v-37.1h-1.45zM341.4 528.1h1.45v-40.33h-1.45zM344.3 528.1h1.45v-41.22h-1.45zM345.75 528.1h1.45v-39.84h-1.45zM347.2 528.1h1.45v-36.64h-1.45zM348.65 528.1h1.45v-31.67h-1.45zM350.1 528.1h1.45v-25.45h-1.45zM353 528.1h1.45v-12.73h-1.45z" fill="#3252cc" stroke="#3252cc" stroke-width="0.15"/>
<path d="M337.05 528.1h1.45v-24.47h-1.45zM342.85 528.1h1.45v-41.37h-1.45zM351.55 528.1h1.45v-18.84h-1.45zM354.45 528.1h1.45v-7.8h-1.45z" fill="#7690dc" stroke="#7690dc" stroke-width="0.15"/>
<path d="M405.8 528.1h1.45v-8.28h-1.45zM407.25 528.1h1.45v-11.56h-1.45zM408.7 528.1h1.45v-15.65h-1.45zM411.6 528.1h1.45v-26.26h-1.45zM414.5 528.1h1.45v-39.46h-1.45zM417.4 528.1h1.45v-53.6h-1.45zM420.3 528.1h1.45v-66.48h-1.45zM421.75 528.1h1.45v-71.8h-1.45zM423.2 528.1h1.45v-76.15h-1.45zM424.65 528.1h1.45v-79.43h-1.45zM426.1 528.1h1.45v-81.65h-1.45zM427.55 528.1h1.45v-82.9h-1.45zM429 528.1h1.45v-83.36h-1.45zM431.9 528.1h1.45v-83.09h-1.45zM433.35 528.1h1.45v-82.25h-1.45zM434.8 528.1h1.45v-80.73h-1.45zM437.7 528.1h1.45v-75.35h-1.45zM439.15 528.1h1.45v-71.47h-1.45zM440.6 528.1h1.45v-66.85h-1.45zM442.05 528.1h1.45v-61.61h-1.45zM443.5 528.1h1.45v-55.88h-1.45zM446.4 528.1h1.45v-43.69h-1.45zM447.85 528.1h1.45v-37.59h-1.45zM449.3 528.1h1.45v-31.73h-1.45zM450.75 528.1h1.45v-26.25h-1.45zM452.2 528.1h1.45v-21.27h-1.45zM453.65 528.1h1.45v-16.87h-1.45zM455.1 528.1h1.45v-13.09h-1.45zM456.55 528.1h1.45v-9.93h-1.45zM458 528.1h1.45v-7.35h-1.45z" fill="#3252cc" stroke="#3252cc" stroke-width="0.15"/>
<path d="M410.15 528.1h1.45v-20.57h-1.45zM413.05 528.1h1.45v-32.62h-1.45zM415.95 528.1h1.45v-46.55h-1.45zM418.85 528.1h1.45v-60.34h-1.45zM430.45 528.1h1.45v-83.38h-1.45zM436.25 528.1h1.45v-78.45h-1.45zM444.95 528.1h1.45v-49.85h-1.45z" fill="#7690dc" stroke="#7690dc" stroke-width="0.15"/>
<path d="M333.9 431.7V528.1M374.47 431.7V528.1M415.05 431.7V528.1M455.62 431.7V528.1M496.2 431.7V528.1" stroke="#c8d2f0" stroke-width="1" opacity="0.35"/>
<path d="M333.9 528.1H498.2" stroke="#6a6af8" stroke-width="1.15"/>
<g font-size="4.3" fill="#333" text-anchor="middle" stroke="#333" stroke-width="0.1">
<text x="333.9" y="534.4" textLength="6.2" lengthAdjust="spacingAndGlyphs">1.0</text>
<text x="374.47" y="534.4" textLength="6.2" lengthAdjust="spacingAndGlyphs">7.1</text>
<text x="415.05" y="534.4" textLength="8.1" lengthAdjust="spacingAndGlyphs">51.0</text>
<text x="455.62" y="534.4" textLength="10" lengthAdjust="spacingAndGlyphs">363.7</text>
<text x="496.2" y="534.4" textLength="11.9" lengthAdjust="spacingAndGlyphs">2400.0</text>
</g>
<text x="393" y="540.7" font-size="5.6" fill="#222" stroke="#222" stroke-width="0.15" textLength="43" lengthAdjust="spacingAndGlyphs">Diameter (nm)</text>
<g font-size="4.3" fill="#333" text-anchor="middle" font-weight="bold"><text x="329.3" y="433.3">1</text><text x="329.3" y="529.7">0</text></g>
<g font-size="4.2" fill="#4a4aee" font-weight="bold" text-anchor="end">
<text x="507" y="433.3">100</text>
<text x="507" y="457.4">75</text>
<text x="507" y="481.5">50</text>
<text x="507" y="505.6">25</text>
<text x="507" y="529.7">0</text>
</g>
<text transform="translate(323 479.9) rotate(-90)" font-size="5.6" fill="#222" stroke="#222" stroke-width="0.18" text-anchor="middle" textLength="55" lengthAdjust="spacingAndGlyphs">Differential Intensity (%)</text>
<text transform="translate(514.7 479.9) rotate(-90)" font-size="5.6" fill="#222" stroke="#222" stroke-width="0.18" text-anchor="middle" textLength="45.8" lengthAdjust="spacingAndGlyphs">Cumulative Intensity(%)</text>
</svg></body></html>
